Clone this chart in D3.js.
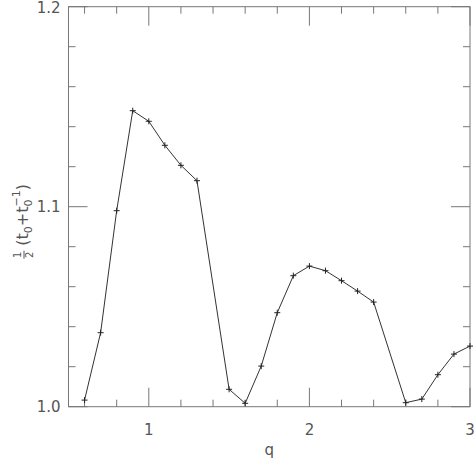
<!DOCTYPE html>
<html><head><meta charset="utf-8">
<script src="https://cdn.jsdelivr.net/npm/d3@7"></script>
<style>body{margin:0;background:#fff}text{font-family:"DejaVu Sans",sans-serif;fill:#555}</style>
</head><body><svg id="c" width="474" height="461"></svg>
<script>
const qValues=[0.6,0.7,0.8,0.9,1.0,1.1,1.2,1.3,1.5,1.6,1.7,1.8,1.9,2.0,2.1,2.2,2.3,2.4,2.6,2.7,2.8,2.9,3.0];
const tValues=[1.0033,1.037,1.098,1.148,1.1427,1.1307,1.1207,1.113,1.0087,1.0017,1.0203,1.047,1.0655,1.0703,1.068,1.063,1.0578,1.0523,1.002,1.0038,1.016,1.0263,1.0303];
const xMajor=[1,2,3], yMajor=[1.0,1.1,1.2];
const svg=d3.select("#c");
const L=68.5,R=470,T=6.7,B=406.7;
const x=d3.scaleLinear().domain([0.5,3]).range([L,R]);
const y=d3.scaleLinear().domain([1.0,1.2]).range([B,T]);
const g=svg.append("g").attr("stroke","#777").attr("stroke-width",1).attr("fill","none");
g.append("rect").attr("x",L).attr("y",T).attr("width",R-L).attr("height",B-T);
const xt=d3.range(0.6,3.001,0.2).map(v=>+v.toFixed(2));
xt.forEach(v=>{const big=xMajor.some(m=>Math.abs(m-v)<1e-6);const len=big?19:7;
 g.append("line").attr("x1",x(v)).attr("x2",x(v)).attr("y1",B).attr("y2",B-len);
 g.append("line").attr("x1",x(v)).attr("x2",x(v)).attr("y1",T).attr("y2",T+len);});
const yt=d3.range(1.0,1.2001,0.02).map(v=>+v.toFixed(3));
yt.forEach(v=>{const big=yMajor.some(m=>Math.abs(m-v)<1e-6);const len=big?19:7;
 g.append("line").attr("y1",y(v)).attr("y2",y(v)).attr("x1",L).attr("x2",L+len);
 g.append("line").attr("y1",y(v)).attr("y2",y(v)).attr("x1",R).attr("x2",R-len);});
xMajor.forEach(v=>svg.append("text").attr("x",x(v)).attr("y",B+28).attr("text-anchor","middle").attr("font-size",15).text(v));
yMajor.forEach(v=>svg.append("text").attr("x",L-8).attr("y",Math.max(y(v)+5,13)).attr("text-anchor","end").attr("font-size",15).text(v.toFixed(1)));
svg.append("text").attr("x",x(1.75)).attr("y",455).attr("text-anchor","middle").attr("font-size",15).text("q");
const pts=qValues.map((q,i)=>[x(q),y(tValues[i])]);
svg.append("path").attr("d",d3.line()(pts)).attr("fill","none").attr("stroke","#333").attr("stroke-width",1);
pts.forEach(p=>{svg.append("path").attr("d",`M${p[0]-3},${p[1]}h6M${p[0]},${p[1]-3}v6`).attr("stroke","#222");});
const yl=svg.append("g").attr("transform",`translate(22,${y(1.1)}) rotate(-90)`);
yl.append("text").attr("x",-48).attr("y",-1).attr("font-size",10).attr("text-anchor","middle").text("1");
yl.append("line").attr("x1",-52).attr("x2",-44).attr("y1",2).attr("y2",2).attr("stroke","#555");
yl.append("text").attr("x",-48).attr("y",11).attr("font-size",10).attr("text-anchor","middle").text("2");
const t=yl.append("text").attr("x",-39).attr("y",6).attr("font-size",16);
t.append("tspan").text("(t");
t.append("tspan").attr("font-size",11).attr("dy",4).text("0");
t.append("tspan").attr("dy",-4).text("+t");
t.append("tspan").attr("font-size",11).attr("dy",4).text("0");
t.append("tspan").attr("font-size",11).attr("dy",-12).attr("dx",-7).text("−1");
t.append("tspan").attr("dy",8).text(")");
</script></body></html>
